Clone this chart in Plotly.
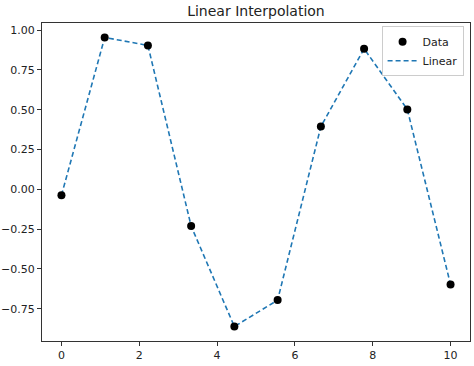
import plotly.graph_objects as go

x_data = [0.0, 1.111, 2.222, 3.333, 4.444, 5.556, 6.667, 7.778, 8.889, 10.0]
y_data = [-0.038, 0.954, 0.904, -0.231, -0.862, -0.696, 0.394, 0.883, 0.502, -0.598]
x_ticks = [0, 2, 4, 6, 8, 10]
y_ticks = [-0.75, -0.50, -0.25, 0.00, 0.25, 0.50, 0.75, 1.00]
y_tick_labels = ["\u22120.75", "\u22120.50", "\u22120.25", "0.00", "0.25", "0.50", "0.75", "1.00"]

fig = go.Figure()
fig.add_trace(go.Scatter(x=x_data, y=y_data, mode="lines", name="Linear",
                         line=dict(color="#1f77b4", width=1.6, dash="5px,3px"),
                         legendrank=2))
fig.add_trace(go.Scatter(x=x_data, y=y_data, mode="markers", name="Data",
                         marker=dict(color="black", size=8), legendrank=1))

ymin, ymax = min(y_data), max(y_data)
pad = (ymax - ymin) * 0.05
fig.update_layout(
    width=474, height=366,
    margin=dict(l=42, r=4, t=23, b=25),
    paper_bgcolor="white", plot_bgcolor="white",
    font=dict(family="DejaVu Sans", size=11, color="#222"),
    title=dict(text="Linear Interpolation", x=0.54, xanchor="center", y=0.97, yanchor="middle",
               font=dict(size=14, color="#222")),
    showlegend=True,
    legend=dict(x=0.985, y=0.99, xanchor="right", yanchor="top",
                bgcolor="rgba(255,255,255,0.8)", bordercolor="#ccc", borderwidth=1,
                font=dict(size=11), itemwidth=30, tracegroupgap=0),
    xaxis=dict(range=[-0.5, 10.5], tickvals=x_ticks, showgrid=False, zeroline=False,
               showline=True, mirror=True, linecolor="#333", linewidth=1,
               ticks="outside", ticklen=4, tickcolor="#333", automargin=False),
    yaxis=dict(range=[ymin - pad, ymax + pad], tickvals=y_ticks, ticktext=y_tick_labels,
               showgrid=False, zeroline=False,
               showline=True, mirror=True, linecolor="#333", linewidth=1,
               ticks="outside", ticklen=4, tickcolor="#333", automargin=False),
)
fig.write_html("out.html", config={"displayModeBar": False},
               post_script="document.body.style.margin='0';document.body.style.overflow='hidden';")
